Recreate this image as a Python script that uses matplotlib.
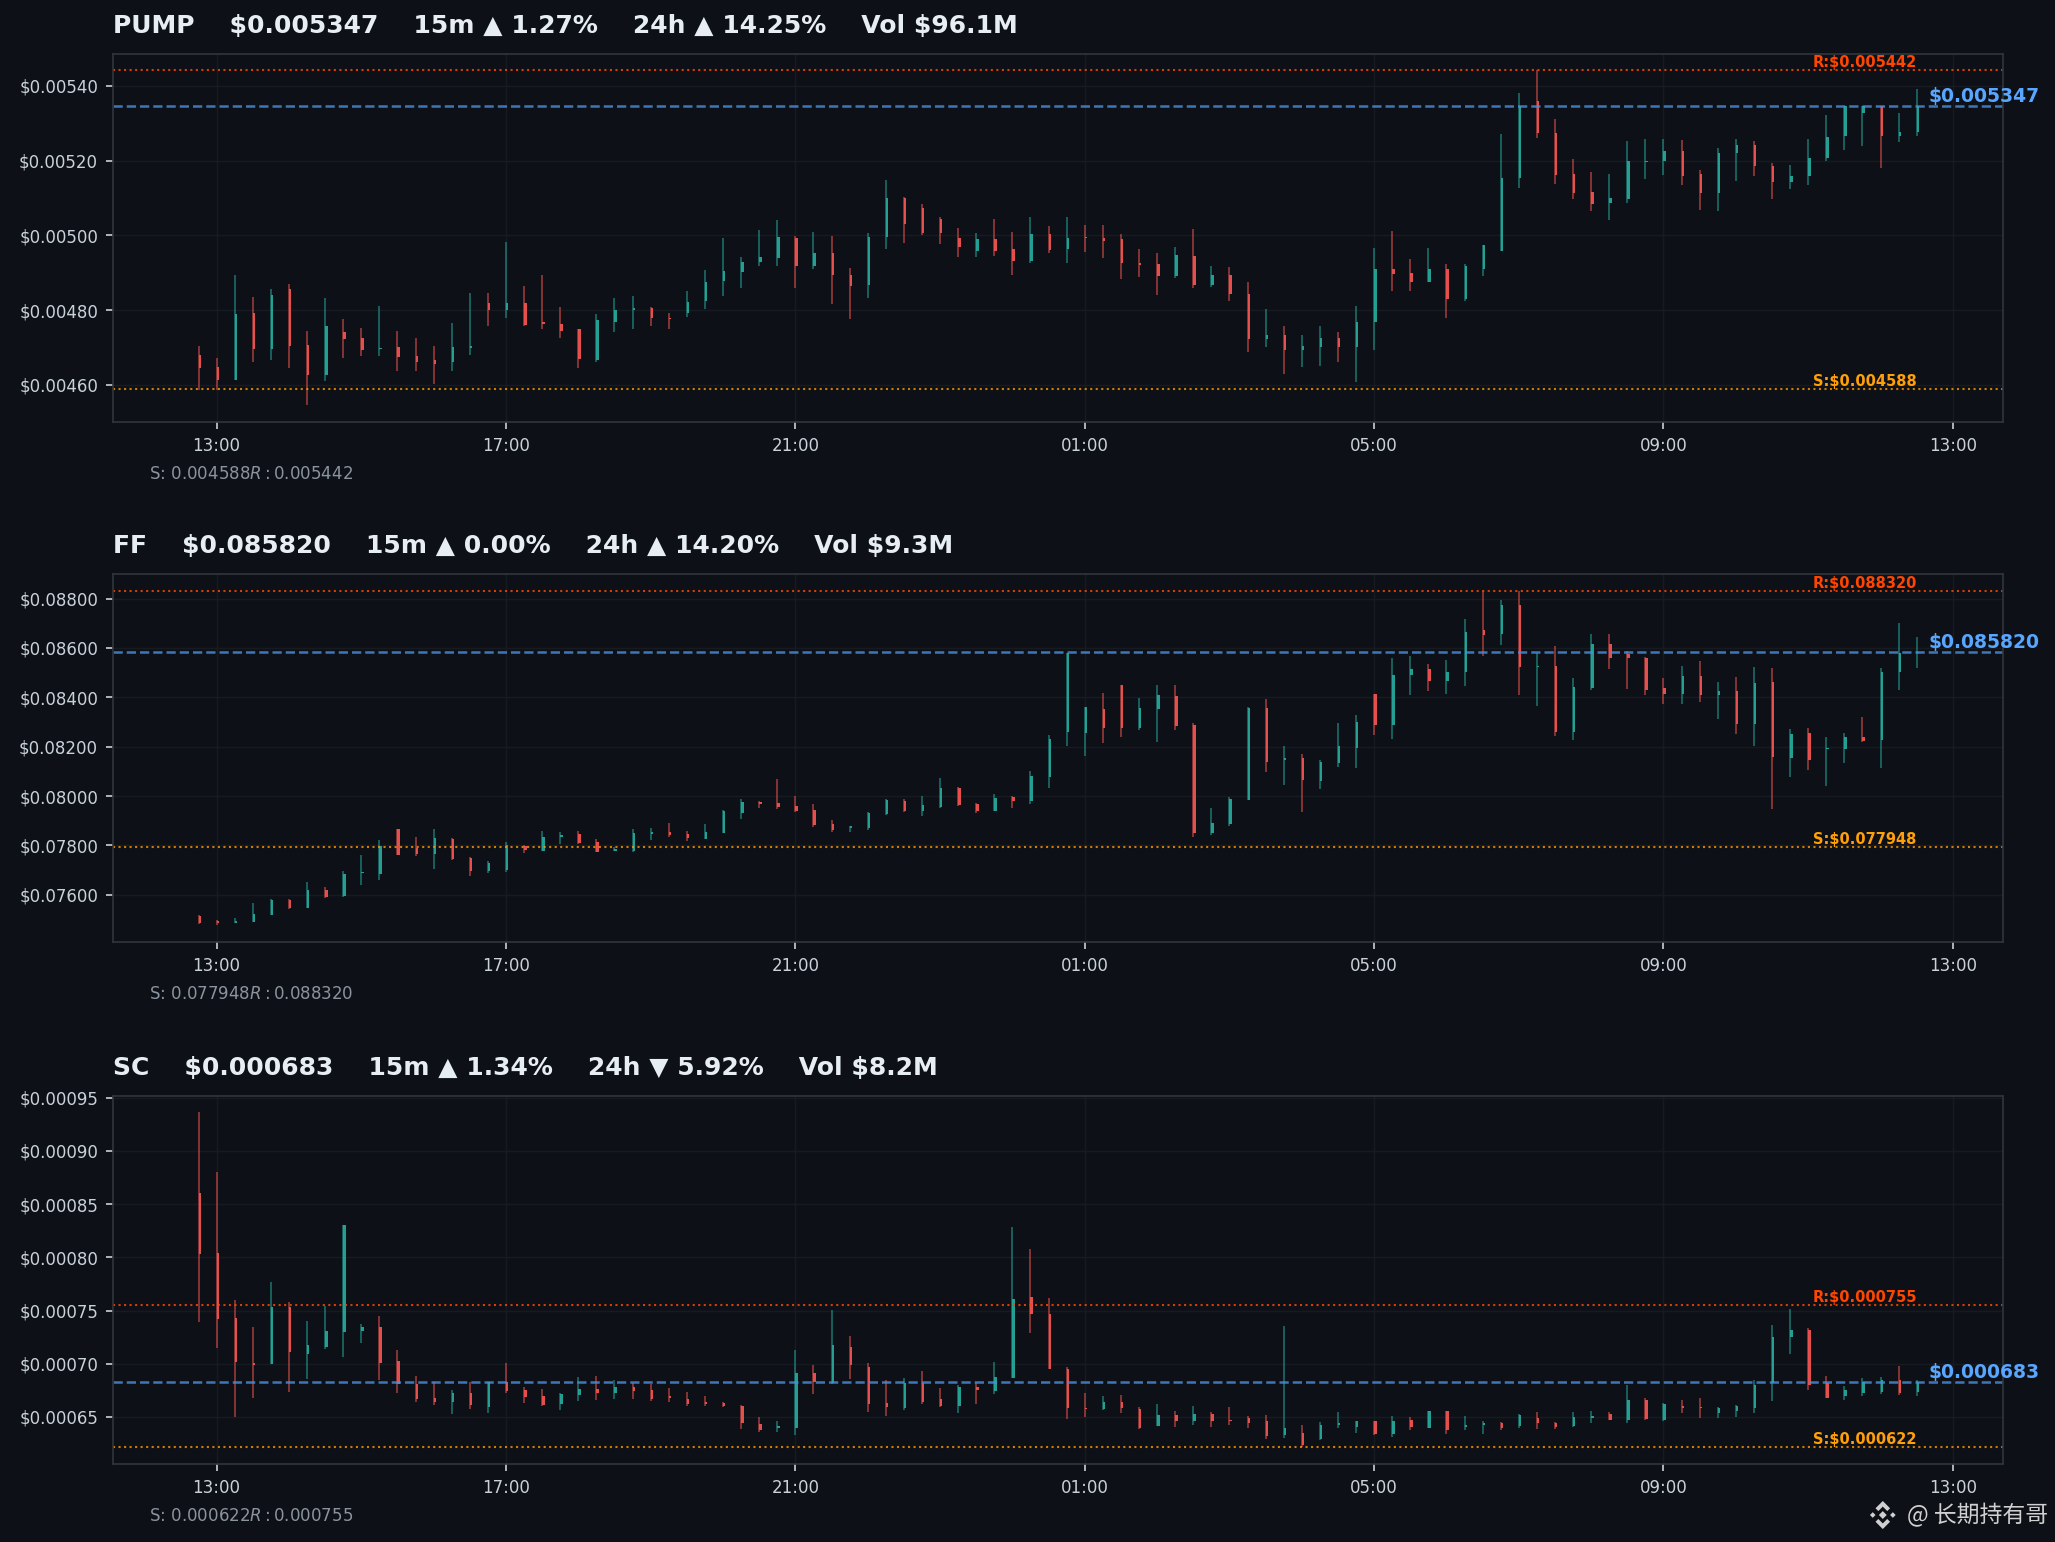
#######################################################
# Imports
#######################################################

import numpy as np
import pandas as pd
import matplotlib
matplotlib.use('Agg')
import matplotlib.pyplot as plt
import matplotlib.dates as mdates
from matplotlib.ticker import MultipleLocator, FuncFormatter
from matplotlib.patches import Polygon


#######################################################
# Data (15m candles, 12:45 -> 12:30 next day)
#######################################################

times = pd.date_range('2025-10-12 12:45', periods=96, freq='15min')

pump_open = [0.004680, 0.004648, 0.004612, 0.004792, 0.004696, 0.004856, 0.004707, 0.004627,
             0.004740, 0.004725, 0.004696, 0.004700, 0.004678, 0.004665, 0.004660, 0.004698,
             0.004818, 0.004801, 0.004818, 0.004767, 0.004763, 0.004748, 0.004665, 0.004769,
             0.004801, 0.004805, 0.004780, 0.004792, 0.004825, 0.004878, 0.004903, 0.004929,
             0.004939, 0.004993, 0.004918, 0.004952, 0.004895, 0.004866, 0.004996, 0.005099,
             0.005073, 0.005045, 0.004993, 0.004958, 0.004990, 0.004963, 0.004930, 0.005003,
             0.004963, 0.004996, 0.004994, 0.004990, 0.004927, 0.004923, 0.004892, 0.004945,
             0.004868, 0.004895, 0.004844, 0.004723, 0.004732, 0.004692, 0.004701, 0.004725,
             0.004702, 0.004767, 0.004911, 0.004898, 0.004876, 0.004911, 0.004829, 0.004911,
             0.004958, 0.005154, 0.005360, 0.005274, 0.005164, 0.005116, 0.005087, 0.005096,
             0.005196, 0.005198, 0.005225, 0.005164, 0.005114, 0.005220, 0.005241, 0.005185,
             0.005143, 0.005160, 0.005207, 0.005265, 0.005327, 0.005345, 0.005265, 0.005278]
pump_high = [0.004704, 0.004672, 0.004895, 0.004834, 0.004856, 0.004870, 0.004744, 0.004831,
             0.004776, 0.004752, 0.004811, 0.004744, 0.004725, 0.004704, 0.004765, 0.004845,
             0.004845, 0.004981, 0.004864, 0.004895, 0.004808, 0.004750, 0.004789, 0.004832,
             0.004837, 0.004808, 0.004792, 0.004851, 0.004907, 0.004992, 0.004942, 0.005013,
             0.005041, 0.004997, 0.005008, 0.004997, 0.004913, 0.005005, 0.005147, 0.005104,
             0.005085, 0.005048, 0.005019, 0.005005, 0.005045, 0.005008, 0.005048, 0.005024,
             0.005048, 0.005028, 0.005028, 0.005004, 0.004963, 0.004952, 0.004970, 0.005016,
             0.004917, 0.004914, 0.004874, 0.004804, 0.004756, 0.004733, 0.004756, 0.004742,
             0.004810, 0.004965, 0.005011, 0.004938, 0.004967, 0.004923, 0.004924, 0.004975,
             0.005271, 0.005380, 0.005442, 0.005312, 0.005204, 0.005169, 0.005165, 0.005253,
             0.005259, 0.005259, 0.005256, 0.005176, 0.005234, 0.005258, 0.005252, 0.005194,
             0.005189, 0.005258, 0.005322, 0.005347, 0.005347, 0.005347, 0.005327, 0.005391]
pump_low = [0.004587, 0.004587, 0.004612, 0.004660, 0.004667, 0.004646, 0.004545, 0.004609,
            0.004672, 0.004678, 0.004678, 0.004636, 0.004636, 0.004601, 0.004638, 0.004680,
            0.004756, 0.004778, 0.004756, 0.004748, 0.004726, 0.004644, 0.004660, 0.004742,
            0.004748, 0.004756, 0.004749, 0.004782, 0.004804, 0.004838, 0.004858, 0.004918,
            0.004918, 0.004860, 0.004911, 0.004816, 0.004776, 0.004833, 0.004963, 0.004980,
            0.005002, 0.004976, 0.004942, 0.004942, 0.004946, 0.004894, 0.004926, 0.004952,
            0.004926, 0.004956, 0.004940, 0.004884, 0.004889, 0.004841, 0.004886, 0.004860,
            0.004863, 0.004825, 0.004689, 0.004700, 0.004628, 0.004647, 0.004651, 0.004660,
            0.004607, 0.004692, 0.004852, 0.004852, 0.004876, 0.004778, 0.004825, 0.004890,
            0.004958, 0.005127, 0.005260, 0.005138, 0.005098, 0.005066, 0.005041, 0.005087,
            0.005151, 0.005161, 0.005135, 0.005067, 0.005065, 0.005145, 0.005158, 0.005098,
            0.005123, 0.005136, 0.005198, 0.005228, 0.005238, 0.005180, 0.005249, 0.005265]
pump_close = [0.004645, 0.004612, 0.004789, 0.004696, 0.004840, 0.004705, 0.004627, 0.004758,
              0.004723, 0.004694, 0.004698, 0.004673, 0.004660, 0.004656, 0.004702, 0.004705,
              0.004801, 0.004818, 0.004760, 0.004763, 0.004745, 0.004668, 0.004773, 0.004801,
              0.004805, 0.004780, 0.004776, 0.004822, 0.004875, 0.004905, 0.004929, 0.004942,
              0.004996, 0.004918, 0.004954, 0.004893, 0.004865, 0.004996, 0.005099, 0.005031,
              0.005007, 0.005007, 0.004970, 0.004990, 0.004958, 0.004932, 0.005003, 0.004960,
              0.004993, 0.004993, 0.004985, 0.004927, 0.004921, 0.004892, 0.004947, 0.004868,
              0.004895, 0.004844, 0.004723, 0.004732, 0.004692, 0.004705, 0.004725, 0.004702,
              0.004769, 0.004911, 0.004896, 0.004876, 0.004911, 0.004829, 0.004918, 0.004973,
              0.005154, 0.005345, 0.005274, 0.005161, 0.005114, 0.005085, 0.005099, 0.005198,
              0.005200, 0.005225, 0.005158, 0.005114, 0.005220, 0.005241, 0.005185, 0.005143,
              0.005160, 0.005207, 0.005262, 0.005345, 0.005345, 0.005265, 0.005278, 0.005347]

ff_open = [0.07513, 0.07494, 0.07487, 0.07491, 0.07519, 0.07578, 0.07548, 0.07618,
           0.07595, 0.07688, 0.07686, 0.07867, 0.07790, 0.07766, 0.07826, 0.07750,
           0.07698, 0.07700, 0.07797, 0.07779, 0.07835, 0.07848, 0.07815, 0.07779,
           0.07779, 0.07845, 0.07855, 0.07847, 0.07826, 0.07851, 0.07931, 0.07976,
           0.07972, 0.07960, 0.07943, 0.07888, 0.07872, 0.07872, 0.07927, 0.07982,
           0.07938, 0.07954, 0.08034, 0.07968, 0.07939, 0.07997, 0.07978, 0.08077,
           0.08261, 0.08255, 0.08352, 0.08448, 0.08275, 0.08352, 0.08404, 0.08288,
           0.07850, 0.07887, 0.07986, 0.08356, 0.08147, 0.08153, 0.08063, 0.08133,
           0.08194, 0.08412, 0.08288, 0.08490, 0.08513, 0.08466, 0.08504, 0.08672,
           0.08655, 0.08773, 0.08521, 0.08527, 0.08261, 0.08436, 0.08618, 0.08577,
           0.08558, 0.08436, 0.08412, 0.08488, 0.08410, 0.08427, 0.08292, 0.08463,
           0.08153, 0.08255, 0.08190, 0.08190, 0.08238, 0.08228, 0.08501, 0.08580]
ff_high = [0.07519, 0.07498, 0.07507, 0.07568, 0.07584, 0.07584, 0.07653, 0.07632,
           0.07697, 0.07762, 0.07822, 0.07867, 0.07834, 0.07867, 0.07830, 0.07754,
           0.07737, 0.07814, 0.07803, 0.07859, 0.07855, 0.07859, 0.07826, 0.07795,
           0.07867, 0.07871, 0.07891, 0.07859, 0.07887, 0.07943, 0.07988, 0.07982,
           0.08070, 0.08000, 0.07968, 0.07903, 0.07879, 0.07935, 0.07988, 0.07988,
           0.08000, 0.08073, 0.08036, 0.07972, 0.08008, 0.08000, 0.08101, 0.08246,
           0.08580, 0.08362, 0.08419, 0.08448, 0.08399, 0.08448, 0.08448, 0.08295,
           0.07952, 0.07996, 0.08360, 0.08392, 0.08201, 0.08170, 0.08147, 0.08295,
           0.08327, 0.08412, 0.08558, 0.08566, 0.08533, 0.08553, 0.08719, 0.08831,
           0.08796, 0.08831, 0.08580, 0.08606, 0.08477, 0.08655, 0.08655, 0.08589,
           0.08562, 0.08477, 0.08528, 0.08549, 0.08463, 0.08481, 0.08521, 0.08517,
           0.08271, 0.08275, 0.08238, 0.08255, 0.08320, 0.08517, 0.08703, 0.08645]
ff_low = [0.07483, 0.07476, 0.07484, 0.07491, 0.07519, 0.07541, 0.07548, 0.07588,
          0.07592, 0.07638, 0.07658, 0.07763, 0.07759, 0.07706, 0.07743, 0.07678,
          0.07690, 0.07694, 0.07771, 0.07779, 0.07807, 0.07807, 0.07775, 0.07779,
          0.07775, 0.07824, 0.07834, 0.07820, 0.07826, 0.07851, 0.07907, 0.07952,
          0.07948, 0.07935, 0.07875, 0.07855, 0.07855, 0.07863, 0.07925, 0.07935,
          0.07919, 0.07951, 0.07960, 0.07931, 0.07939, 0.07952, 0.07968, 0.08032,
          0.08203, 0.08163, 0.08214, 0.08239, 0.08266, 0.08219, 0.08268, 0.07833,
          0.07841, 0.07877, 0.07986, 0.08098, 0.08046, 0.07935, 0.08030, 0.08119,
          0.08113, 0.08248, 0.08230, 0.08410, 0.08426, 0.08414, 0.08445, 0.08567,
          0.08612, 0.08410, 0.08365, 0.08244, 0.08228, 0.08429, 0.08513, 0.08432,
          0.08410, 0.08373, 0.08373, 0.08380, 0.08313, 0.08252, 0.08203, 0.07949,
          0.08077, 0.08106, 0.08042, 0.08133, 0.08221, 0.08113, 0.08430, 0.08517]
ff_close = [0.07484, 0.07484, 0.07494, 0.07521, 0.07577, 0.07548, 0.07618, 0.07592,
            0.07686, 0.07692, 0.07797, 0.07763, 0.07766, 0.07830, 0.07746, 0.07696,
            0.07729, 0.07803, 0.07783, 0.07834, 0.07843, 0.07810, 0.07775, 0.07787,
            0.07851, 0.07853, 0.07841, 0.07830, 0.07855, 0.07941, 0.07974, 0.07968,
            0.07957, 0.07939, 0.07884, 0.07863, 0.07876, 0.07933, 0.07985, 0.07941,
            0.07962, 0.08032, 0.07964, 0.07939, 0.07992, 0.07980, 0.08081, 0.08230,
            0.08580, 0.08362, 0.08275, 0.08275, 0.08356, 0.08408, 0.08284, 0.07850,
            0.07891, 0.07989, 0.08356, 0.08140, 0.08153, 0.08066, 0.08140, 0.08201,
            0.08300, 0.08288, 0.08490, 0.08513, 0.08466, 0.08504, 0.08665, 0.08652,
            0.08773, 0.08521, 0.08527, 0.08261, 0.08440, 0.08618, 0.08560, 0.08560,
            0.08430, 0.08412, 0.08488, 0.08410, 0.08426, 0.08292, 0.08457, 0.08158,
            0.08252, 0.08147, 0.08193, 0.08238, 0.08224, 0.08501, 0.08580, 0.08582]

sc_open = [0.0008600, 0.0008042, 0.0007434, 0.0007005, 0.0006998, 0.0007534, 0.0007089, 0.0007160,
           0.0007294, 0.0007307, 0.0007341, 0.0007023, 0.0006808, 0.0006674, 0.0006643, 0.0006727,
           0.0006597, 0.0006827, 0.0006755, 0.0006693, 0.0006621, 0.0006709, 0.0006761, 0.0006724,
           0.0006786, 0.0006755, 0.0006693, 0.0006671, 0.0006640, 0.0006631, 0.0006600, 0.0006435,
           0.0006397, 0.0006397, 0.0006911, 0.0006818, 0.0007154, 0.0006970, 0.0006631, 0.0006584,
           0.0006818, 0.0006671, 0.0006606, 0.0006780, 0.0006746, 0.0006864, 0.0007628, 0.0007466,
           0.0006949, 0.0006584, 0.0006575, 0.0006640, 0.0006575, 0.0006413, 0.0006522, 0.0006459,
           0.0006531, 0.0006475, 0.0006491, 0.0006460, 0.0006335, 0.0006350, 0.0006297, 0.0006422,
           0.0006407, 0.0006459, 0.0006341, 0.0006472, 0.0006397, 0.0006553, 0.0006407, 0.0006428,
           0.0006444, 0.0006413, 0.0006491, 0.0006444, 0.0006413, 0.0006491, 0.0006528, 0.0006472,
           0.0006662, 0.0006475, 0.0006600, 0.0006593, 0.0006537, 0.0006556, 0.0006584, 0.0006818,
           0.0007251, 0.0007316, 0.0006818, 0.0006693, 0.0006724, 0.0006739, 0.0006849, 0.0006733]
sc_high = [0.0009360, 0.0008799, 0.0007603, 0.0007341, 0.0007771, 0.0007584, 0.0007397, 0.0007544,
           0.0008304, 0.0007378, 0.0007444, 0.0007126, 0.0006883, 0.0006833, 0.0006752, 0.0006827,
           0.0006827, 0.0007005, 0.0006780, 0.0006761, 0.0006727, 0.0006874, 0.0006883, 0.0006846,
           0.0006817, 0.0006808, 0.0006771, 0.0006733, 0.0006696, 0.0006640, 0.0006615, 0.0006500,
           0.0006466, 0.0007126, 0.0006992, 0.0007509, 0.0007257, 0.0007005, 0.0006846, 0.0006864,
           0.0006930, 0.0006771, 0.0006799, 0.0006817, 0.0007014, 0.0008285, 0.0008079, 0.0007621,
           0.0006967, 0.0006724, 0.0006693, 0.0006705, 0.0006593, 0.0006621, 0.0006559, 0.0006603,
           0.0006547, 0.0006593, 0.0006509, 0.0006519, 0.0007350, 0.0006429, 0.0006453, 0.0006547,
           0.0006466, 0.0006466, 0.0006509, 0.0006500, 0.0006559, 0.0006556, 0.0006509, 0.0006466,
           0.0006453, 0.0006531, 0.0006547, 0.0006453, 0.0006547, 0.0006559, 0.0006547, 0.0006799,
           0.0006677, 0.0006630, 0.0006662, 0.0006677, 0.0006597, 0.0006615, 0.0006849, 0.0007363,
           0.0007519, 0.0007332, 0.0006886, 0.0006793, 0.0006864, 0.0006880, 0.0006977, 0.0006843]
sc_low = [0.0007391, 0.0007145, 0.0006500, 0.0006681, 0.0006998, 0.0006737, 0.0006855, 0.0007139,
          0.0007061, 0.0007192, 0.0006846, 0.0006727, 0.0006643, 0.0006615, 0.0006531, 0.0006578,
          0.0006541, 0.0006727, 0.0006633, 0.0006606, 0.0006568, 0.0006652, 0.0006662, 0.0006671,
          0.0006671, 0.0006652, 0.0006643, 0.0006606, 0.0006606, 0.0006593, 0.0006391, 0.0006357,
          0.0006357, 0.0006335, 0.0006718, 0.0006808, 0.0006855, 0.0006550, 0.0006513, 0.0006569,
          0.0006624, 0.0006597, 0.0006541, 0.0006624, 0.0006718, 0.0006864, 0.0007285, 0.0006949,
          0.0006484, 0.0006500, 0.0006569, 0.0006537, 0.0006391, 0.0006413, 0.0006407, 0.0006428,
          0.0006407, 0.0006428, 0.0006397, 0.0006297, 0.0006304, 0.0006216, 0.0006288, 0.0006397,
          0.0006351, 0.0006329, 0.0006313, 0.0006379, 0.0006397, 0.0006341, 0.0006379, 0.0006341,
          0.0006382, 0.0006397, 0.0006391, 0.0006391, 0.0006407, 0.0006444, 0.0006472, 0.0006441,
          0.0006475, 0.0006466, 0.0006537, 0.0006491, 0.0006491, 0.0006500, 0.0006537, 0.0006652,
          0.0007089, 0.0006756, 0.0006677, 0.0006662, 0.0006693, 0.0006715, 0.0006709, 0.0006693]
sc_close = [0.0008033, 0.0007425, 0.0007014, 0.0006990, 0.0007534, 0.0007107, 0.0007176, 0.0007307,
            0.0008304, 0.0007341, 0.0007005, 0.0006808, 0.0006671, 0.0006643, 0.0006727, 0.0006615,
            0.0006827, 0.0006740, 0.0006686, 0.0006615, 0.0006718, 0.0006761, 0.0006724, 0.0006780,
            0.0006746, 0.0006671, 0.0006678, 0.0006624, 0.0006624, 0.0006600, 0.0006444, 0.0006382,
            0.0006416, 0.0006911, 0.0006827, 0.0007176, 0.0006989, 0.0006624, 0.0006593, 0.0006818,
            0.0006640, 0.0006606, 0.0006780, 0.0006755, 0.0006874, 0.0007612, 0.0007466, 0.0006949,
            0.0006584, 0.0006575, 0.0006640, 0.0006584, 0.0006397, 0.0006522, 0.0006459, 0.0006531,
            0.0006459, 0.0006459, 0.0006444, 0.0006319, 0.0006397, 0.0006241, 0.0006428, 0.0006444,
            0.0006459, 0.0006341, 0.0006466, 0.0006407, 0.0006553, 0.0006382, 0.0006428, 0.0006444,
            0.0006397, 0.0006522, 0.0006444, 0.0006407, 0.0006500, 0.0006509, 0.0006472, 0.0006662,
            0.0006484, 0.0006621, 0.0006584, 0.0006584, 0.0006584, 0.0006600, 0.0006802, 0.0007254,
            0.0007316, 0.0006802, 0.0006677, 0.0006755, 0.0006833, 0.0006850, 0.0006724, 0.0006830]

symbols = ['PUMP', 'FF', 'SC']
last_prices = [0.005347, 0.085820, 0.000683]
change_15m = ['▲ 1.27%', '▲ 0.00%', '▲ 1.34%']
change_24h = ['▲ 14.25%', '▲ 14.20%', '▼ 5.92%']
volumes = ['96.1M', '9.3M', '8.2M']
supports = [0.004588, 0.077948, 0.000622]
resistances = [0.005442, 0.088320, 0.000755]
tick_steps = [0.0002, 0.002, 0.00005]


#######################################################
# Style
#######################################################

bg = '#0d1117'
up_color = '#26a69a'
down_color = '#ef5350'
text_color = '#e6edf3'
tick_color = '#c9d1d9'
muted = '#8b949e'


#######################################################
# Panel drawing
#######################################################

def draw_panel(ax, o, h, l, c, i):
    x = mdates.date2num(times)
    o = np.asarray(o); h = np.asarray(h); l = np.asarray(l); c = np.asarray(c)
    support, resistance, price = supports[i], resistances[i], last_prices[i]

    colors = np.where(c >= o, up_color, down_color)
    ax.vlines(x, l, h, colors=colors, linewidth=0.9, alpha=0.55)
    # bodies: thin bars starting at the wick, keep a tiny height for doji
    min_h = (h.max() - l.min()) * 0.004
    lo = np.minimum(o, c)
    hi = np.maximum(np.maximum(o, c), lo + min_h)
    ax.bar(x, hi - lo, bottom=lo, width=0.0014, align='edge', color=colors,
           alpha=0.95, linewidth=0)

    ax.axhline(resistance, color='#ff4500', ls=':', lw=1.0, alpha=0.85)
    ax.axhline(support, color='#ff9800', ls=':', lw=1.0, alpha=0.8)
    ax.axhline(price, color='#4a90e2', ls='--', lw=1.2, alpha=0.8)

    ax.text(x[-1], resistance, f'R:${resistance:.6f}', ha='right', va='bottom',
            color='#ff4500', fontsize=7, fontweight='bold')
    ax.text(x[-1], support, f'S:${support:.6f}', ha='right', va='bottom',
            color='#ff9f0a', fontsize=7, fontweight='bold')
    ax.text(x[-1] + 10 / 1440, price, f'${price:.6f}', ha='left', va='bottom',
            color='#58a6ff', fontsize=9, fontweight='bold', clip_on=False)

    lo_y = min(l.min(), support)
    hi_y = max(h.max(), resistance)
    pad = (hi_y - lo_y) * 0.05
    ax.set_ylim(lo_y - pad, hi_y + pad)
    span = x[-1] - x[0]
    ax.set_xlim(x[0] - span * 0.05, x[-1] + span * 0.05)

    ax.set_facecolor(bg)
    for s in ax.spines.values():
        s.set_color('#30363d')
    ax.grid(True, color='#161b22', lw=0.7)
    ax.set_axisbelow(True)
    ax.tick_params(colors=tick_color, labelsize=8, length=3.5)

    ax.xaxis.set_major_locator(mdates.HourLocator(byhour=[1, 5, 9, 13, 17, 21]))
    ax.xaxis.set_major_formatter(mdates.DateFormatter('%H:%M'))
    ax.yaxis.set_major_locator(MultipleLocator(tick_steps[i]))
    ax.yaxis.set_major_formatter(FuncFormatter(lambda v, p: f'${v:.5f}'))

    title = (f'{symbols[i]}    \\${price:.6f}    15m {change_15m[i]}    '
             f'24h {change_24h[i]}    Vol \\${volumes[i]}')
    ax.set_title(title, loc='left', color=text_color, fontsize=12,
                 fontweight='bold', pad=10)

    # support / resistance footnote
    ax.text(0.019, -0.141, f'S: ${support:.6f}  R: ${resistance:.6f}',
            transform=ax.transAxes, color=muted, fontsize=8, va='center')


#######################################################
# Figure
#######################################################

fig = plt.figure(figsize=(13.7, 10.28), dpi=150, facecolor=bg)

rects = [[0.0548, 0.7263, 0.9197, 0.2390],
         [0.0548, 0.3890, 0.9197, 0.2388],
         [0.0548, 0.0506, 0.9197, 0.2388]]
series = [(pump_open, pump_high, pump_low, pump_close),
          (ff_open, ff_high, ff_low, ff_close),
          (sc_open, sc_high, sc_low, sc_close)]

for i in range(3):
    ax = fig.add_axes(rects[i])
    draw_panel(ax, *series[i], i)

# watermark
fig.text(0.9965, 0.0175, '@ 长期持有哥', ha='right', va='center', color='#d0d0d0',
         fontsize=11, family=['Noto Sans CJK SC', 'DejaVu Sans'])

logo = fig.add_axes([0.9162 - 0.0068, 0.0175 - 0.0091, 0.0136, 0.0182])
logo.set_xlim(-1, 1)
logo.set_ylim(-1, 1)
logo.axis('off')
shapes = [
    [(0, 0.28), (0.28, 0), (0, -0.28), (-0.28, 0)],
    [(-0.72, 0.2), (-0.52, 0), (-0.72, -0.2), (-0.92, 0)],
    [(0.72, 0.2), (0.92, 0), (0.72, -0.2), (0.52, 0)],
    [(0, 1), (0.52, 0.48), (0.32, 0.28), (0, 0.6), (-0.32, 0.28), (-0.52, 0.48)],
    [(0, -1), (0.52, -0.48), (0.32, -0.28), (0, -0.6), (-0.32, -0.28), (-0.52, -0.48)],
]
for pts in shapes:
    logo.add_patch(Polygon(pts, closed=True, color='#d0d0d0', lw=0))

fig.savefig('out.png', dpi=150, facecolor=bg)
